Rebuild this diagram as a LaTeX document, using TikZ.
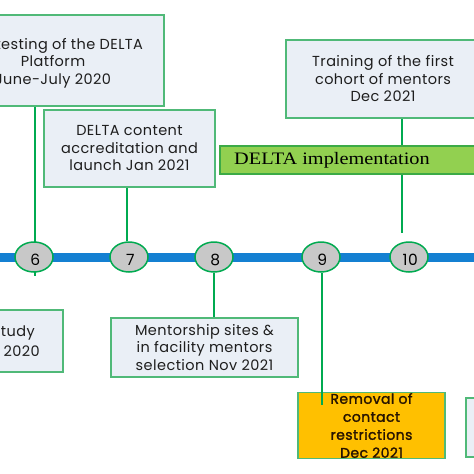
\documentclass[tikz,border=0pt]{standalone}
\usepackage{fontspec}
\setmainfont{Poppins}[LetterSpace=3]
\newfontfamily\barfont{Liberation Serif}
\newfontfamily\boldish{Poppins}[FakeBold=1.6,LetterSpace=3]
\usetikzlibrary{shapes.geometric,backgrounds}
\definecolor{boxfill}{RGB}{234,239,246}
\definecolor{boxline}{RGB}{80,185,120}
\definecolor{connline}{RGB}{0,170,80}
\definecolor{tlblue}{RGB}{20,128,210}
\definecolor{circfill}{RGB}{200,200,200}
\definecolor{barfill}{RGB}{146,208,80}
\definecolor{barline}{RGB}{60,170,70}
\definecolor{orangefill}{RGB}{255,192,0}
\definecolor{txt}{RGB}{30,30,30}
\newcommand{\numlow}[1]{\raisebox{-3pt}[\height][\depth]{#1}}
\tikzset{
  evtext/.style={inner sep=0pt, align=center, text=txt, font=\fontsize{14.5}{17.5}\selectfont},
  evbox/.style={draw=boxline, line width=1.3pt, fill=boxfill, inner sep=0pt, evtext},
  conn/.style={draw=connline, line width=2.6pt},
  tl/.style={draw=tlblue, line width=8.5pt},
  stepcirc/.style={ellipse, draw=connline, line width=1.5pt, fill=circfill, minimum width=38pt,
    minimum height=30pt, inner sep=0pt, font=\fontsize{15.5}{15.5}\selectfont, text=black},
  barbox/.style={draw=barline, line width=1.5pt, fill=barfill, inner sep=0pt},
  bartext/.style={font=\barfont\fontsize{17.5}{17.5}\selectfont, text=black, anchor=west, inner sep=0pt, xscale=1.16}
}
\begin{document}
\begin{tikzpicture}[x=1pt,y=-1pt]
\clip (0,0) rectangle (474,474);
% boxes
\node[evbox, minimum width=224pt, minimum height=91pt] (A) at (52,60.5) {};
\node[evtext] (Atext) at (53,63) {Pre-testing of the DELTA\\Platform\\June-July 2020};
\node[evbox, minimum width=171pt, minimum height=77pt] (B) at (129.5,148.5) {DELTA content\\accreditation and\\launch Jan 2021};
\node[evbox, minimum width=194pt, minimum height=78pt] (C) at (383,79) {Training of the first\\cohort of mentors\\Dec 2021};
\node[evbox, minimum width=187pt, minimum height=59pt] (D) at (204.5,347.5) {Mentorship sites \&\\in facility mentors\\selection Nov 2021};
\node[evbox, fill=orangefill, minimum width=147pt, minimum height=66pt, text=black!85!orange,
  font=\boldish\fontsize{14}{18}\selectfont] (E) at (371.5,425.5) {Removal of\\contact\\restrictions\\Dec 2021};
\node[evbox, minimum width=60pt, minimum height=59pt] (F) at (496,427.5) {};
\node[evbox, minimum width=140pt, minimum height=62pt] (G) at (-7,341) {};
\node[evtext, anchor=east] (G1) at (35,333) {study};
\node[evtext, anchor=east] (G2) at (40,351) {2020};
% circles
\node[stepcirc] (c6) at (34,257) {\,\numlow{6}};
\node[stepcirc] (c7) at (129,257) {\,\numlow{7}};
\node[stepcirc] (c8) at (214,257) {\,\numlow{8}};
\node[stepcirc] (c9) at (321,257) {\,\numlow{9}};
\node[stepcirc] (c10) at (409,257) {\,\numlow{10}};
\coordinate (l) at (0,257.5);
\coordinate (r) at (474,257.5);
\coordinate (c6end) at (35,276);
\coordinate (c10end) at (402,233);
\coordinate (c9end) at (322,405);
\begin{scope}[on background layer]
  \fill[white] (0,0) rectangle (474,474);
  \draw[tl] (l) -- (r);
  \draw[conn] (A.south -| c6end) -- (c6end);
  \draw[conn] (B.south -| 127,0) -- (c7.north -| 127,0);
  \draw[conn] (c8.south) -- (D.north -| c8.south);
  \draw[conn] (C.south -| c10end) -- (c10end);
\end{scope}
\draw[conn] (c9.south -| c9end) -- (c9end);
% bar
\node[barbox, minimum width=260pt, minimum height=28pt] (bar) at (350,160) {};
\node[bartext] (bartxt) at (234,160.5) {DELTA implementation};
\end{tikzpicture}
\end{document}
